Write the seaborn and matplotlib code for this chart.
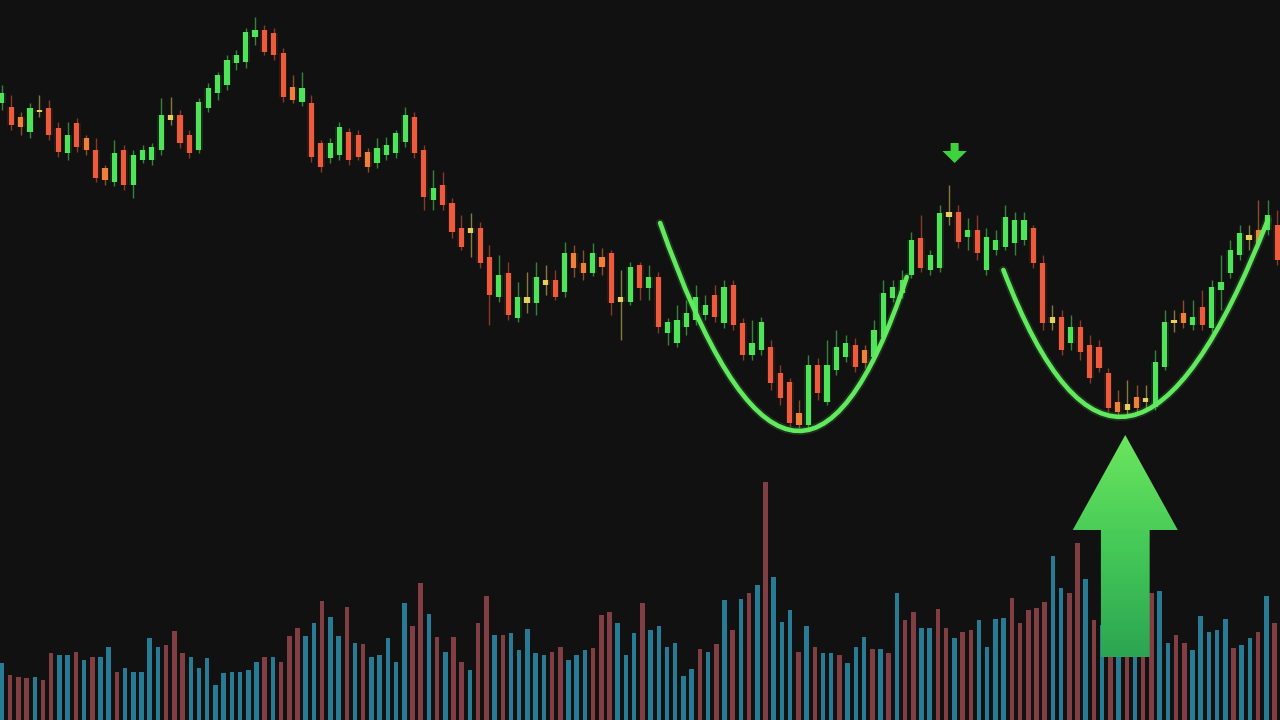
import numpy as np
import pandas as pd
import seaborn as sns
import matplotlib.pyplot as plt
from matplotlib.path import Path
from matplotlib.patches import PathPatch, FancyArrow
from matplotlib.colors import LinearSegmentedColormap


# price candles, one per session
opens = [617, 613, 603, 588, 608, 612, 592, 567, 597, 582, 570, 552, 538, 570, 535, 560, 560, 570, 600, 605,
         585, 570, 612, 627, 635, 657, 658, 683, 690, 687, 667, 633, 618, 617, 577, 562, 565, 588, 585, 568,
         557, 565, 567, 578, 603, 570, 520, 535, 517, 492, 492, 492, 463, 423, 447, 402, 423, 417, 440, 440,
         428, 467, 457, 447, 463, 467, 423, 418, 455, 432, 443, 387, 377, 393, 400, 405, 425, 397, 435, 397,
         365, 370, 373, 347, 338, 307, 295, 355, 318, 350, 363, 375, 370, 363, 383, 422, 427, 445, 482, 450,
         452, 503, 508, 483, 490, 450, 470, 473, 477, 480, 492, 457, 403, 403, 377, 393, 375, 373, 347, 318,
         316, 323, 318, 313, 353, 397, 407, 395, 413, 392, 430, 447, 465, 480, 490, 490, 495]
highs = [635, 625, 608, 617, 625, 620, 598, 598, 602, 585, 582, 555, 580, 575, 570, 575, 577, 622, 623, 610,
         590, 622, 637, 648, 665, 670, 692, 703, 695, 692, 672, 645, 648, 625, 580, 582, 598, 592, 590, 572,
         582, 583, 590, 613, 608, 575, 550, 548, 522, 505, 507, 498, 475, 465, 458, 438, 448, 458, 455, 450,
         478, 475, 470, 477, 472, 470, 450, 458, 458, 455, 448, 402, 415, 420, 435, 425, 435, 440, 440, 402,
         400, 403, 380, 355, 342, 320, 365, 362, 380, 390, 385, 382, 375, 400, 440, 440, 450, 488, 505, 470,
         515, 535, 515, 502, 505, 492, 490, 515, 508, 508, 495, 465, 415, 410, 405, 400, 385, 380, 352, 330,
         340, 335, 335, 370, 410, 410, 420, 420, 430, 440, 465, 480, 495, 495, 520, 520, 510]
lows = [610, 590, 585, 582, 603, 580, 563, 560, 568, 565, 538, 535, 534, 530, 522, 557, 555, 565, 595, 572,
        562, 567, 608, 620, 630, 650, 652, 675, 665, 660, 618, 617, 614, 558, 548, 557, 560, 555, 560, 548,
        552, 560, 562, 573, 562, 510, 510, 510, 482, 470, 463, 452, 395, 418, 400, 398, 407, 405, 425, 420,
        423, 443, 440, 444, 445, 405, 380, 415, 420, 420, 387, 375, 373, 385, 395, 400, 398, 392, 390, 360,
        360, 365, 330, 315, 294, 292, 292, 320, 315, 345, 358, 348, 352, 358, 378, 418, 422, 442, 448, 445,
        448, 495, 472, 470, 460, 445, 465, 470, 465, 475, 452, 390, 390, 365, 370, 360, 337, 348, 308, 305,
        305, 308, 308, 310, 350, 388, 392, 390, 390, 388, 410, 442, 460, 470, 472, 485, 455]
closes = [627, 595, 593, 612, 610, 585, 568, 585, 573, 570, 542, 540, 567, 535, 565, 570, 573, 605, 605, 577,
          567, 618, 632, 645, 660, 665, 688, 690, 668, 665, 623, 620, 632, 563, 553, 577, 593, 560, 563, 553,
          572, 575, 587, 605, 567, 523, 532, 515, 488, 473, 487, 457, 425, 445, 405, 423, 417, 443, 435, 423,
          467, 452, 447, 467, 453, 417, 418, 453, 432, 443, 393, 398, 400, 407, 423, 415, 403, 433, 395, 365,
          377, 398, 337, 322, 297, 295, 355, 327, 355, 373, 377, 353, 357, 390, 427, 433, 440, 480, 452, 465,
          507, 508, 478, 490, 467, 483, 480, 503, 500, 500, 457, 397, 397, 370, 393, 368, 342, 352, 312, 308,
          310, 312, 322, 358, 398, 400, 397, 403, 395, 433, 438, 470, 487, 485, 477, 505, 460]

# traded volume per bar (thousands) and whether the bar closed up
volumes = [57, 45, 43, 42, 43, 40, 67, 65, 65, 68, 60, 63, 63, 73, 48, 52, 48, 48, 82, 73,
           75, 89, 67, 63, 52, 62, 35, 47, 48, 48, 50, 58, 63, 63, 58, 84, 92, 84, 97, 119,
           103, 84, 113, 77, 76, 63, 65, 82, 58, 117, 94, 137, 106,
           83, 68, 83, 58, 50, 97, 124, 85, 85, 87, 70, 91, 67, 65, 68, 73, 60, 65, 70, 72,
           105, 108, 97, 65, 87, 117, 90, 94, 73, 77, 44, 51, 71, 68, 76, 120, 90, 121, 127, 135,
           238, 143, 98, 110, 68, 94, 73, 67, 67,
           65, 57, 73, 83, 71, 71, 67, 127, 100, 108, 92, 92, 111, 92, 82, 88, 90, 100, 73, 101,
           102, 122, 97, 110, 112, 118, 164, 132, 127, 177, 141, 100, 95, 110, 90, 105, 98, 112,
           127, 129, 77, 85, 77, 70, 104, 88, 90, 101, 72, 75, 82, 88, 124, 97]
vol_up = [1, 0, 0, 0, 1, 0, 0, 1, 1, 0, 1, 0, 1, 1, 0, 1, 1, 1, 1, 1,
          0, 0, 0, 1, 1, 1, 1, 1, 1, 1, 1, 1, 0, 1, 0, 0, 0, 1, 1, 0,
          1, 1, 0, 1, 0, 1, 1, 1, 1, 1, 0, 0, 1,
          0, 1, 0, 0, 1, 0, 0, 1, 0, 1, 1, 1, 1, 1, 0, 0, 1, 1, 1, 0,
          0, 0, 1, 1, 1, 0, 1, 1, 1, 1, 1, 1, 0, 1, 0, 1, 0, 1, 0, 1,
          0, 1, 1, 1, 0, 1, 0, 1, 1,
          0, 1, 1, 1, 0, 1, 0, 1, 0, 0, 1, 1, 0, 0, 1, 0, 0, 1, 1, 1,
          1, 0, 0, 0, 0, 0, 1, 1, 0, 0, 1, 0, 1, 0, 1, 0, 1, 0,
          0, 1, 1, 0, 0, 1, 1, 1, 1, 1, 0, 1, 1, 0, 1, 0]

BG = '#111111'
GREEN = '#4FE35A'
RED = '#EE5A3C'
ORANGE = '#F07F3A'
YELLOW = '#E6CF5E'
LINE = '#62EA5E'

sns.set_theme(style='dark', rc={'axes.facecolor': BG, 'figure.facecolor': BG})

fig = plt.figure(figsize=(12.8, 7.2), dpi=100)

# volume panel underneath
axv = fig.add_axes([0, 0, 1, 1])
vol_df = pd.DataFrame({'bar': range(len(volumes)), 'volume': volumes,
                       'side': ['up' if u else 'down' for u in vol_up]})
sns.barplot(data=vol_df, x='bar', y='volume', hue='side', native_scale=True, dodge=False,
            palette={'up': '#2A88A4', 'down': '#8E4549'}, width=0.55, errorbar=None,
            saturation=1, alpha=0.9, legend=False, edgecolor='none', linewidth=0, ax=axv)
axv.set_xlim(-0.24, 155.66)
axv.set_ylim(0, 720)
axv.set_axis_off()

# candles on top
ax = fig.add_axes([0, 0, 1, 1])
ax.patch.set_alpha(0)
x = np.arange(len(opens))
o = np.array(opens)
c = np.array(closes)
body = np.abs(c - o)
colors = []
for oo, cc, b in zip(o, c, body):
    if b <= 6:
        colors.append(YELLOW)
    elif cc > oo:
        colors.append(GREEN)
    elif b < 16:
        colors.append(ORANGE)
    else:
        colors.append(RED)

ax.vlines(x, lows, highs, colors=colors, lw=1.0, alpha=0.55)
ax.bar(x, np.maximum(body, 2), bottom=np.minimum(o, c), width=0.85, color=colors, alpha=0.12, lw=0)
ax.bar(x, np.maximum(body, 2), bottom=np.minimum(o, c), width=0.55, color=colors, lw=0)

# rounded bottom curves
for pts in ([(70.2, 497), (84.7, 110), (96.5, 443)],
            [(106.8, 450), (119.7, 133), (135.0, 500)]):
    path = Path(pts, [Path.MOVETO, Path.CURVE3, Path.CURVE3])
    ax.add_patch(PathPatch(path, fill=False, edgecolor=LINE, lw=6, alpha=0.15,
                           capstyle='round', zorder=5))
    ax.add_patch(PathPatch(path, fill=False, edgecolor=LINE, lw=3.3, capstyle='round', zorder=5))

# small marker over the middle peak
ax.add_patch(FancyArrow(101.6, 577, 0, -20, width=0.85, head_width=2.6, head_length=12,
                        length_includes_head=True, color='#3ED23E', lw=0, zorder=6))

# big up arrow with vertical gradient
arrow = FancyArrow(119.8, 63, 0, 222, width=5.2, head_width=11.2, head_length=95,
                   length_includes_head=True, facecolor='none', edgecolor='none', zorder=6)
ax.add_patch(arrow)
cmap = LinearSegmentedColormap.from_list('arr', ['#2CA552', '#45C957', '#6BE65E'])
grad = np.linspace(0, 1, 256).reshape(-1, 1)
im = ax.imshow(grad, cmap=cmap, origin='lower', extent=(113.5, 126.1, 63, 285),
               aspect='auto', zorder=6)
im.set_clip_path(arrow)

ax.set_xlim(-0.2, 136.3)
ax.set_ylim(0, 720)
ax.set_axis_off()

fig.savefig('out.png', dpi=100, facecolor=BG)
